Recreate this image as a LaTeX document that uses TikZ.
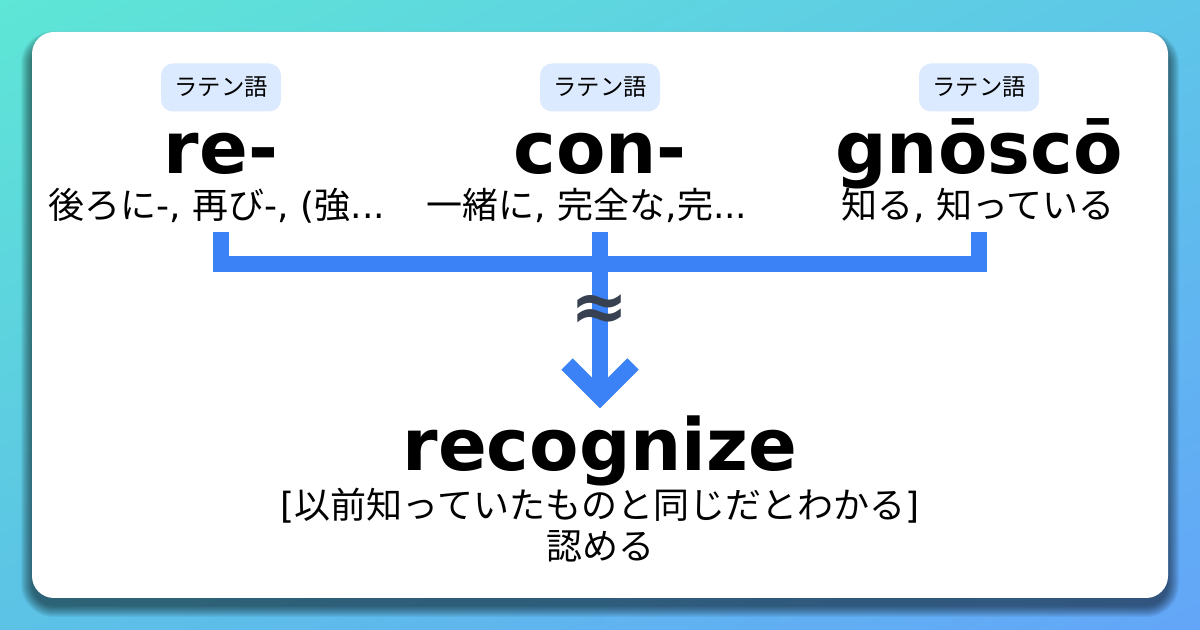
\documentclass[tikz,border=0pt]{standalone}
\usepackage{fontspec}
\usetikzlibrary{shadings}
\setmainfont{DejaVu Sans}
\newfontfamily\jp{Noto Sans CJK JP}
\definecolor{bgtl}{RGB}{94,230,214}
\definecolor{bgtr}{RGB}{94,198,232}
\definecolor{bgbl}{RGB}{92,194,230}
\definecolor{bgbr}{RGB}{99,165,248}
\definecolor{pillfill}{HTML}{DBEAFE}
\definecolor{barblue}{HTML}{3B82F6}
\definecolor{approxgray}{HTML}{374151}
\begin{document}
\begin{tikzpicture}[x=0.75pt,y=-0.75pt,
  pill/.style={fill=pillfill, rounded corners=9pt, minimum width=90pt, minimum height=36pt, inner sep=0pt, font=\jp\fontsize{17.5pt}{20pt}\selectfont},
  head/.style={anchor=base, inner sep=0pt, font=\bfseries\fontsize{54pt}{60pt}\selectfont},
  sub/.style={anchor=base, inner sep=0pt, font=\fontsize{27pt}{31pt}\selectfont},
  bar/.style={draw=barblue, line width=12pt, line join=miter, line cap=butt},
  approx/.style={inner sep=0pt, text=approxgray, font=\bfseries\fontsize{52pt}{56pt}\selectfont}]
\useasboundingbox (0,0) rectangle (1200,630);
\shade[upper left=bgtl, upper right=bgtr, lower left=bgbl, lower right=bgbr] (0,0) rectangle (1200,630);
% shadow
\foreach \i in {0,...,11}{
  \pgfmathsetmacro{\rc}{(22+\i)*0.75}
  \fill[black, opacity=0.05, rounded corners=\rc pt] (32-\i,42-\i) rectangle (1168+\i,606+\i);
}
% card
\fill[white, rounded corners=16.5pt] (32,32) rectangle (1168,598);
% pills
\node[pill] (pA) at (221,87.5) {ラテン語};
\node[pill] (pB) at (600,87.5) {ラテン語};
\node[pill] (pC) at (979,87.5) {ラテン語};
% heads
\node[head] (hA) at (221,174) {re-};
\node[head] (hB) at (600,174) {con-};
\node[head] (hC) at (979,174) {gnōscō};
% subtitles
\node[sub] (sA) at (217,219) {{\jp 後ろに}-, {\jp 再び}-, ({\jp 強}...};
\node[sub] (sB) at (587,219) {{\jp 一緒に}, {\jp 完全な},{\jp 完}...};
\node[sub] (sC) at (978,219) {{\jp 知る}, {\jp 知っている}};
% connectors
\coordinate (tA) at (221,232);
\coordinate (tB) at (600,232);
\coordinate (tC) at (979,232);
\coordinate (j) at (600,264);
\coordinate (tip) at (600,397);
\coordinate (al) at (567,364);
\coordinate (ar) at (633,364);
\draw[bar] (tA) |- (j) -| (tC);
\draw[bar] (tB) -- (tip);
\draw[bar] (al) -- (tip) -- (ar);
\node[approx] (ap) at (600,313) {≈};
% result
\node[head] (rec) at (600,471) {recognize};
\node[sub] (mean) at (600,519) {[{\jp 以前知っていたものと同じだとわかる}]};
\node[sub] (tr) at (600,560) {{\jp 認める}};
\end{tikzpicture}
\end{document}
